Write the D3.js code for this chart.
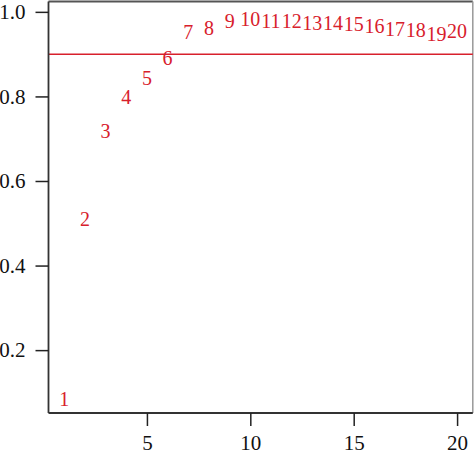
<!DOCTYPE html>
<html><head><meta charset="utf-8">
<script src="https://cdn.jsdelivr.net/npm/d3@7"></script>
<style>body{margin:0;background:#fff}svg{display:block}</style>
</head><body>
<svg id="c" width="474" height="457"></svg>
<script>
const components = [1,2,3,4,5,6,7,8,9,10,11,12,13,14,15,16,17,18,19,20];
const values = [0.084,0.510,0.718,0.798,0.843,0.891,0.952,0.962,0.977,0.983,0.979,0.977,0.974,0.972,0.970,0.965,0.960,0.957,0.947,0.954];
const threshold = 0.9;
const xTicks = [5,10,15,20];
const yTicks = [0.2,0.4,0.6,0.8,1.0];

const svg = d3.select("#c");
const L = 48.5, R = 472.8, T = 1.5, B = 413;
const x = d3.scaleLinear().domain([0.24, 20.76]).range([L, R]);
const y = d3.scaleLinear().domain([0.0513, 1.0245]).range([B, T]);
const red = "#d8202c";
const font = "'Liberation Serif', 'Times New Roman', serif";

// box
svg.append("line").attr("x1",L).attr("x2",R).attr("y1",T).attr("y2",T).attr("stroke","#555").attr("stroke-width",2);
svg.append("line").attr("x1",R).attr("x2",R).attr("y1",T).attr("y2",B).attr("stroke","#999").attr("stroke-width",1.5);

// threshold line
svg.append("line").attr("x1",L).attr("x2",R).attr("y1",y(threshold)).attr("y2",y(threshold))
  .attr("stroke",red).attr("stroke-width",1.5);

// axes
const xAxis = d3.axisBottom(x).tickValues(xTicks).tickFormat(d3.format("d")).tickSize(13).tickPadding(9);
const gx = svg.append("g").attr("transform",`translate(0,${B})`).call(xAxis);
gx.select(".domain").attr("d",`M${L},0H${R}`).attr("stroke","#333").attr("stroke-width",1.8);
gx.selectAll(".tick line").attr("stroke","#222").attr("stroke-width",1.5);
gx.selectAll("text").attr("font-family",font).attr("font-size",21).attr("fill","#111");

const yAxis = d3.axisLeft(y).tickValues(yTicks).tickFormat(d3.format(".1f")).tickSize(13).tickPadding(10);
const gy = svg.append("g").attr("transform",`translate(${L},0)`).call(yAxis);
gy.select(".domain").attr("d",`M0,${T}V${B}`).attr("stroke","#333").attr("stroke-width",1.8);
gy.selectAll(".tick line").attr("stroke","#222").attr("stroke-width",1.5);
gy.selectAll("text").attr("font-family",font).attr("font-size",21).attr("fill","#111");

// labels
svg.append("g").selectAll("text").data(components).join("text")
  .attr("x", d => x(d))
  .attr("y", (d,i) => y(values[i]))
  .attr("dy","0.34em")
  .attr("text-anchor","middle")
  .attr("font-family",font).attr("font-size",20).attr("fill",red)
  .text(d => d);
</script>
</body></html>
